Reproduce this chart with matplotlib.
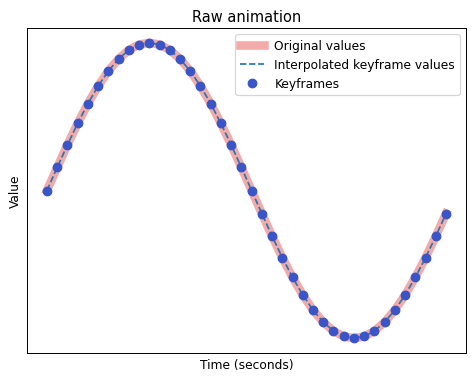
import numpy as np
import matplotlib
matplotlib.use('Agg')
import matplotlib.pyplot as plt


# Keyframe times (seconds) and values
time_s = [0.0, 0.1, 0.2, 0.3, 0.4, 0.5, 0.6, 0.7, 0.8, 0.9,
          1.0, 1.1, 1.2, 1.3, 1.4, 1.5, 1.6, 1.7, 1.8, 1.9,
          2.0, 2.1, 2.2, 2.3, 2.4, 2.5, 2.6, 2.7, 2.8, 2.9,
          3.0, 3.1, 3.2, 3.3, 3.4, 3.5, 3.6, 3.7, 3.8, 3.9]
values = [0.000, 0.156, 0.309, 0.454, 0.588, 0.707, 0.809, 0.891, 0.951, 0.988,
          1.000, 0.988, 0.951, 0.891, 0.809, 0.707, 0.588, 0.454, 0.309, 0.156,
          0.000, -0.156, -0.309, -0.454, -0.588, -0.707, -0.809, -0.891, -0.951, -0.988,
          -1.000, -0.988, -0.951, -0.891, -0.809, -0.707, -0.588, -0.454, -0.309, -0.156]

dpi = 88
fig = plt.figure(figsize=(474 / dpi, 381 / dpi), dpi=dpi)
ax = fig.add_axes([27 / 474, 1 - 354 / 381, (466 - 27) / 474, (354 - 29) / 381])

ax.plot(time_s, values, color='#f2aaaa', linewidth=7, label='Original values')
ax.plot(time_s, values, '--', color='#2278b0', linewidth=1.4,
        label='Interpolated keyframe values')
ax.plot(time_s, values, 'o', color='#3a55c8', markersize=7, linestyle='none',
        label='Keyframes')

ax.set_title('Raw animation', fontsize=12)
ax.set_xlabel('Time (seconds)', fontsize=10)
ax.set_ylabel('Value', fontsize=10)
ax.set_xticks([])
ax.set_yticks([])
ax.legend(loc='upper right', fontsize=10)

fig.savefig('out.png', dpi=dpi)
